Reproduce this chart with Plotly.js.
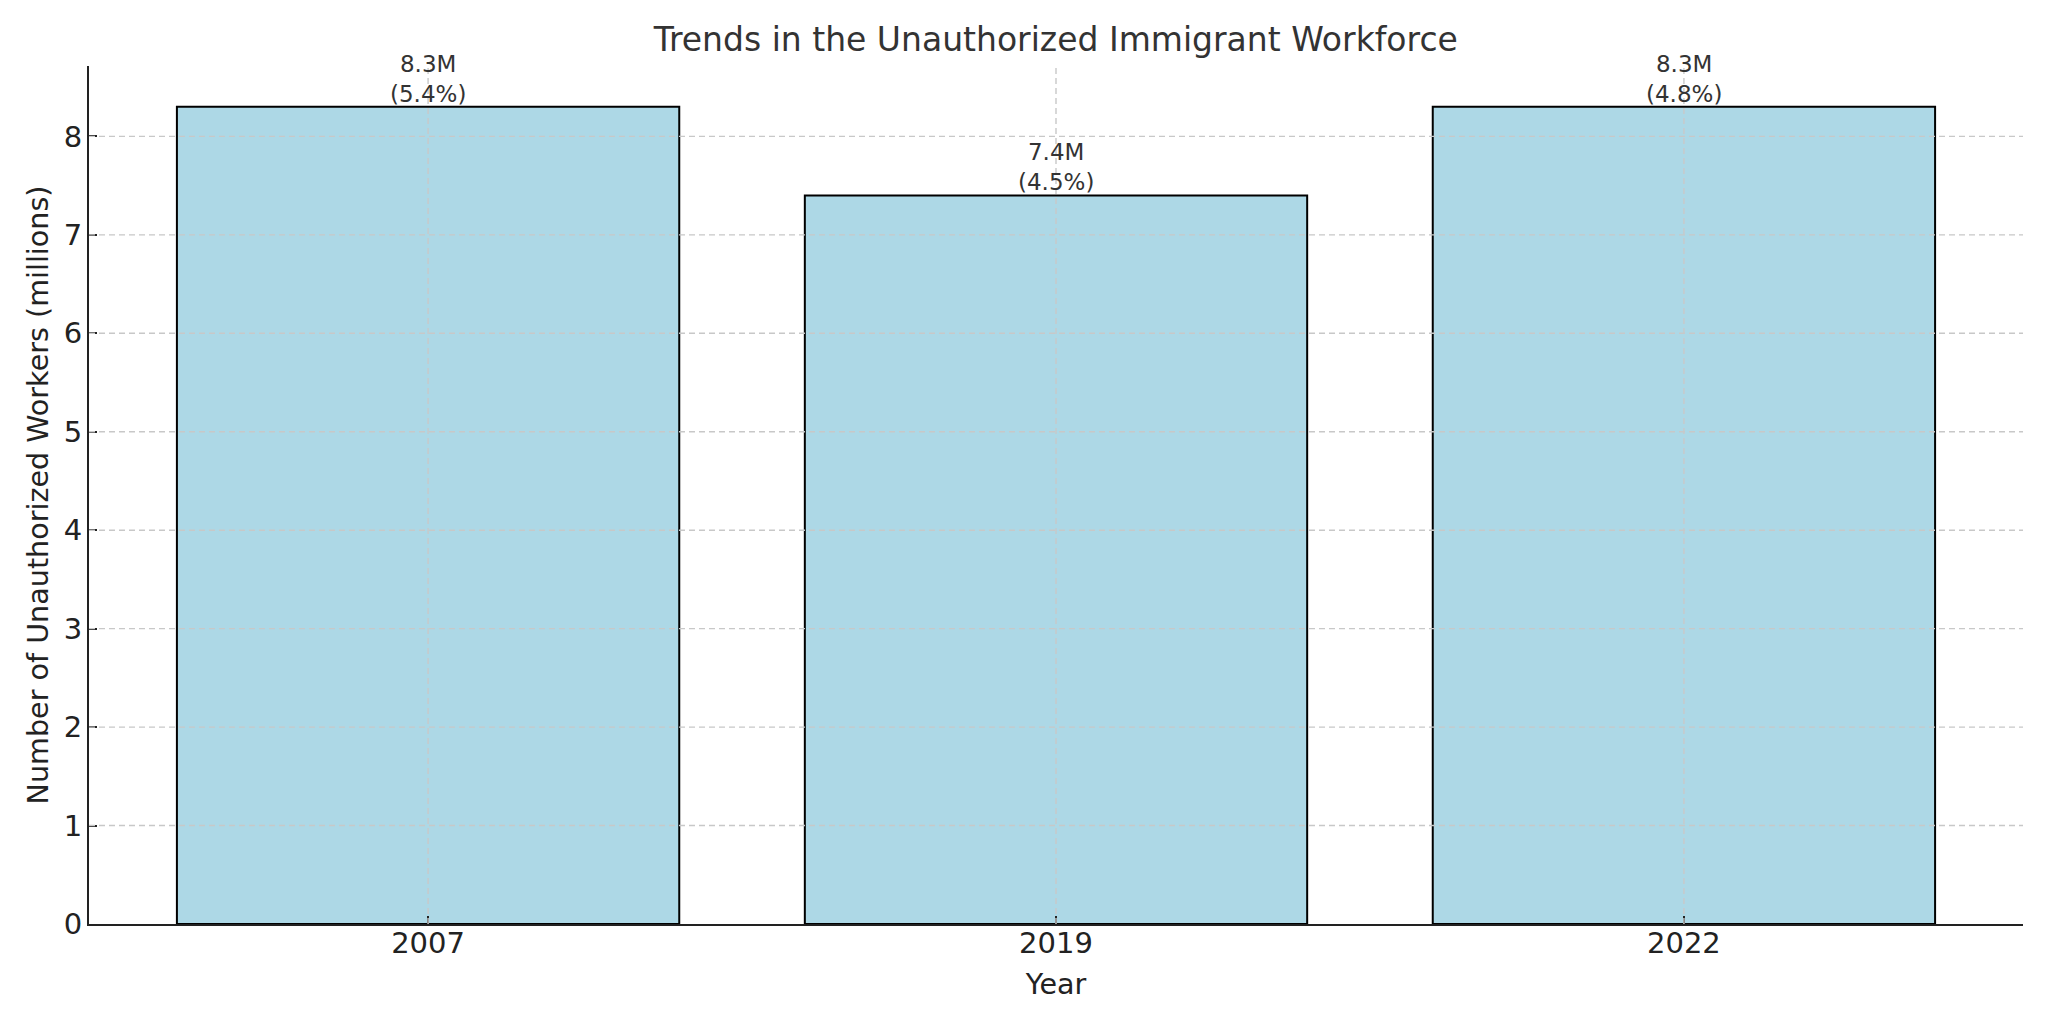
<!DOCTYPE html>
<html>
<head>
<meta charset="utf-8">
<script src="https://cdn.plot.ly/plotly-3.0.1.min.js"></script>
<style>html,body{margin:0;padding:0;background:#fff;}#chart{width:2048px;height:1024px;}</style>
</head>
<body>
<div id="chart"></div>
<script>
const years = ['2007', '2019', '2022'];
const workers = [8.3, 7.4, 8.3];
const shares = ['5.4%', '4.5%', '4.8%'];
const yTicks = [0, 1, 2, 3, 4, 5, 6, 7, 8];

const FONT = 'DejaVu Sans, sans-serif';

const trace = {
  type: 'bar',
  x: years,
  y: workers,
  width: 0.8,
  marker: { color: '#ADD8E6', line: { color: '#000000', width: 2 } },
  hoverinfo: 'skip'
};

const annotations = years.map((yr, i) => ({
  x: i, y: workers[i], xref: 'x', yref: 'y',
  text: workers[i].toFixed(1) + 'M<br>(' + shares[i] + ')',
  showarrow: false, yanchor: 'bottom', xanchor: 'center', yshift: -2,
  font: { family: FONT, size: 23, color: '#333333' }
}));

const gridStyle = { color: '#c8c8c8', width: 1.4, dash: '6px,4px' };
const shapes = [];
yTicks.filter(v => v > 0).forEach(v => shapes.push({
  type: 'line', layer: 'above', xref: 'paper', yref: 'y', x0: 0, x1: 1, y0: v, y1: v, line: gridStyle
}));
years.forEach((yr, i) => shapes.push({
  type: 'line', layer: 'above', xref: 'x', yref: 'paper', x0: i, x1: i, y0: 0, y1: 1, line: gridStyle
}));

const layout = {
  width: 2048, height: 1024,
  margin: { l: 89, r: 25, t: 66, b: 100 },
  paper_bgcolor: '#ffffff', plot_bgcolor: '#ffffff',
  font: { family: FONT, color: '#222222', size: 29 },
  title: { text: 'Trends in the Unauthorized Immigrant Workforce', x: 0.5155, xanchor: 'center', y: 0.961, yanchor: 'middle',
           font: { family: FONT, size: 33, color: '#333333' } },
  xaxis: {
    type: 'category', range: [-0.54, 2.54],
    showgrid: false, zeroline: false,
    showline: true, linecolor: '#222222', linewidth: 2,
    ticks: 'inside', ticklen: 8, tickwidth: 2, tickcolor: '#222222',
    ticklabelstandoff: -8,
    tickfont: { family: FONT, size: 29, color: '#222222' },
    title: { text: 'Year', standoff: 15, font: { family: FONT, size: 28.6, color: '#222222' } }
  },
  yaxis: {
    range: [0, 8.715], tickvals: yTicks, ticktext: yTicks.map(String),
    showgrid: false, zeroline: false,
    showline: true, linecolor: '#222222', linewidth: 2,
    ticks: 'inside', ticklen: 8, tickwidth: 2, tickcolor: '#222222',
    ticklabelstandoff: -1,
    tickfont: { family: FONT, size: 29, color: '#222222' },
    title: { text: 'Number of Unauthorized Workers (millions)', standoff: 7, font: { family: FONT, size: 28.6, color: '#222222' } }
  },
  annotations: annotations,
  shapes: shapes,
  showlegend: false,
  bargap: 0.2
};

Plotly.newPlot('chart', [trace], layout, { displayModeBar: false, staticPlot: true });
</script>
</body>
</html>
